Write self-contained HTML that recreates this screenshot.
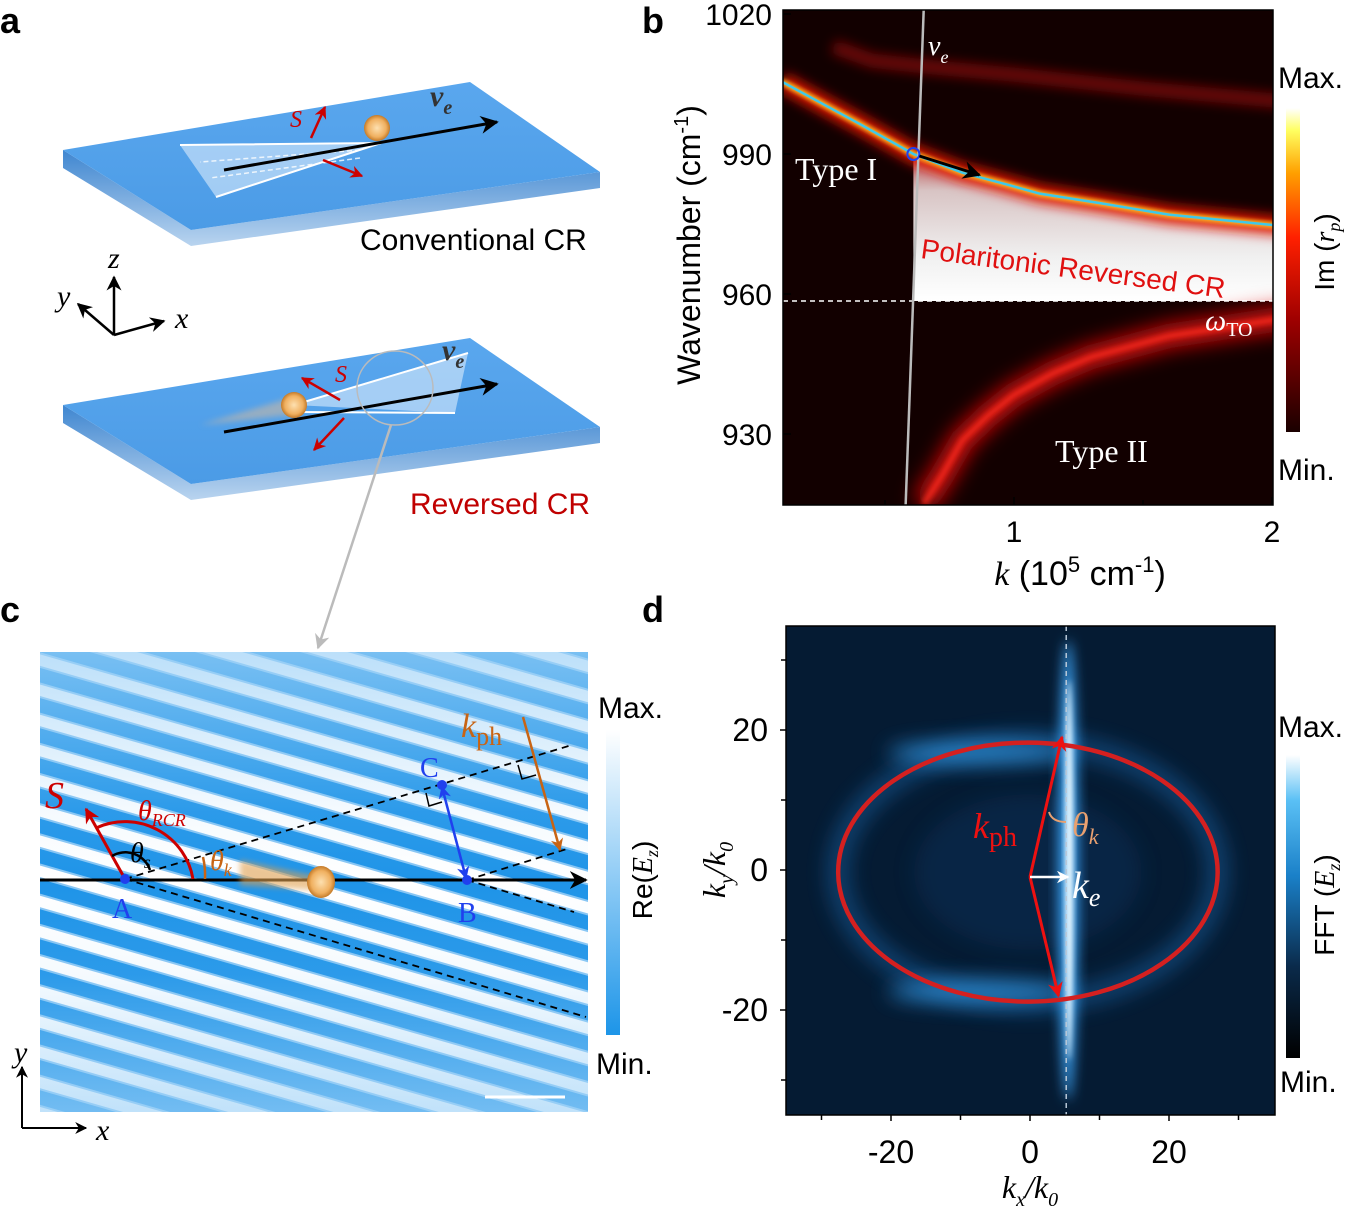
<!DOCTYPE html>
<html><head><meta charset="utf-8"><style>
body{margin:0;background:#fff;}
svg{display:block;font-family:"Liberation Sans",sans-serif;}
.m{font-family:"Liberation Serif",serif;font-style:italic;}
.s{font-family:"Liberation Serif",serif;}
</style></head><body>
<svg id="fig" width="1350" height="1210" viewBox="0 0 1350 1210" xmlns="http://www.w3.org/2000/svg">
<defs>
<linearGradient id="slabTop" x1="0" y1="0" x2="0" y2="1"><stop offset="0" stop-color="#5aa7ee"/><stop offset="1" stop-color="#4b9be6"/></linearGradient>
<linearGradient id="slabSide" x1="0" y1="0" x2="0" y2="1"><stop offset="0" stop-color="#3f86d0"/><stop offset="1" stop-color="#b9d4ef"/></linearGradient>
<radialGradient id="ball" cx="0.5" cy="0.5" r="0.5"><stop offset="0" stop-color="#fde0b0"/><stop offset="0.7" stop-color="#f0b060"/><stop offset="1" stop-color="#c47a28"/></radialGradient>
<linearGradient id="cbB" x1="0" y1="1" x2="0" y2="0"><stop offset="0" stop-color="#1a0000"/><stop offset="0.35" stop-color="#a00000"/><stop offset="0.6" stop-color="#ff2000"/><stop offset="0.8" stop-color="#ffa000"/><stop offset="0.93" stop-color="#ffff60"/><stop offset="1" stop-color="#ffffff"/></linearGradient>
<linearGradient id="cbC" x1="0" y1="0" x2="0" y2="1"><stop offset="0" stop-color="#ffffff"/><stop offset="0.5" stop-color="#8ccaf5"/><stop offset="1" stop-color="#1d95e8"/></linearGradient>
<linearGradient id="cbD" x1="0" y1="1" x2="0" y2="0"><stop offset="0" stop-color="#000000"/><stop offset="0.3" stop-color="#0a2a4a"/><stop offset="0.6" stop-color="#1a80c8"/><stop offset="0.85" stop-color="#5ac0f5"/><stop offset="1" stop-color="#ffffff"/></linearGradient>
<linearGradient id="whiteReg" x1="0" y1="0" x2="0" y2="1"><stop offset="0" stop-color="#b84848"/><stop offset="0.25" stop-color="#d8c4c4"/><stop offset="0.7" stop-color="#f0f0f0"/><stop offset="1" stop-color="#ffffff"/></linearGradient>
<pattern id="stripes" patternUnits="userSpaceOnUse" width="400" height="29" patternTransform="rotate(16)">
<rect width="400" height="29" fill="#1f94e8"/><rect y="7" width="400" height="15" fill="#cfe8fb" opacity="0.6"/><rect y="9" width="400" height="11" fill="#ffffff"/>
</pattern>
<linearGradient id="fadeC" x1="0" y1="0" x2="0" y2="1"><stop offset="0" stop-color="#9fd2f7" stop-opacity="0.7"/><stop offset="0.35" stop-color="#9fd2f7" stop-opacity="0.1"/><stop offset="0.5" stop-color="#9fd2f7" stop-opacity="0"/><stop offset="0.7" stop-color="#9fd2f7" stop-opacity="0.1"/><stop offset="1" stop-color="#9fd2f7" stop-opacity="0.65"/></linearGradient>
<filter id="blur2" x="-50%" y="-50%" width="200%" height="200%"><feGaussianBlur stdDeviation="2"/></filter>
<filter id="blur3" x="-50%" y="-50%" width="200%" height="200%"><feGaussianBlur stdDeviation="3"/></filter>
<filter id="blur6" x="-50%" y="-50%" width="200%" height="200%"><feGaussianBlur stdDeviation="6"/></filter>
<filter id="blur10" x="-100%" y="-100%" width="300%" height="300%"><feGaussianBlur stdDeviation="10"/></filter>
<marker id="ahK" viewBox="0 0 10 10" refX="9" refY="5" markerWidth="6" markerHeight="6" orient="auto"><path d="M0,0 L10,5 L0,10 L3,5z" fill="#000"/></marker>
<marker id="ahR" viewBox="0 0 10 10" refX="9" refY="5" markerWidth="5" markerHeight="5" orient="auto"><path d="M0,0 L10,5 L0,10 L3,5z" fill="#cc0000"/></marker>
<marker id="ahB" viewBox="0 0 10 10" refX="9" refY="5" markerWidth="5" markerHeight="5" orient="auto-start-reverse"><path d="M0,0 L10,5 L0,10 L3,5z" fill="#2040ee"/></marker>
<marker id="ahO" viewBox="0 0 10 10" refX="9" refY="5" markerWidth="5" markerHeight="5" orient="auto"><path d="M0,0 L10,5 L0,10 L3,5z" fill="#c86414"/></marker>
<marker id="ahG" viewBox="0 0 10 10" refX="9" refY="5" markerWidth="6" markerHeight="6" orient="auto"><path d="M0,0 L10,5 L0,10 L3,5z" fill="#bbb"/></marker>
<marker id="ahRd" viewBox="0 0 10 10" refX="9" refY="5" markerWidth="5" markerHeight="5" orient="auto"><path d="M0,0 L10,5 L0,10 L3,5z" fill="#ee1111"/></marker>
<marker id="ahW" viewBox="0 0 10 10" refX="9" refY="5" markerWidth="5" markerHeight="5" orient="auto"><path d="M0,0 L10,5 L0,10 L3,5z" fill="#fff"/></marker>
<clipPath id="clipB"><rect x="783" y="10" width="490" height="495"/></clipPath>
<clipPath id="clipC"><rect x="40" y="652" width="548" height="460"/></clipPath>
<clipPath id="clipD"><rect x="786" y="626" width="489" height="489"/></clipPath>
</defs>

<text x="0" y="33" font-size="36" font-weight="bold">a</text>
<text x="642" y="33" font-size="36" font-weight="bold">b</text>
<text x="0" y="622" font-size="36" font-weight="bold">c</text>
<text x="642" y="622" font-size="36" font-weight="bold">d</text>

<g>
 <g>
  <path d="M63,150 L191,230 L600,172 L600,188 L191,246 L63,168Z" fill="url(#slabSide)"/>
  <path d="M63,150 L470,82 L600,172 L191,230Z" fill="url(#slabTop)"/>
  <path d="M381,143 L180,145 L216,197Z" fill="#e8f3fd" opacity="0.55"/>
  <path d="M381,143 L180,145 M381,143 L216,197" stroke="#fff" stroke-width="2" fill="none"/>
  <path d="M360,150 L200,162 M360,158 L210,178" stroke="#fff" stroke-width="1.5" stroke-dasharray="5,3" opacity="0.8"/>
  <line x1="224" y1="170" x2="497" y2="122" stroke="#000" stroke-width="3" marker-end="url(#ahK)"/>
  <circle cx="377" cy="128" r="13" fill="url(#ball)"/>
  <line x1="311" y1="138" x2="325" y2="107" stroke="#cc0000" stroke-width="2.5" marker-end="url(#ahR)"/>
  <line x1="323" y1="160" x2="362" y2="176" stroke="#cc0000" stroke-width="2.5" marker-end="url(#ahR)"/>
  <text x="290" y="127" class="m" font-size="24" fill="#cc0000">S</text>
  <text x="430" y="106" class="m" font-size="30" font-weight="bold" fill="#333">v<tspan font-size="20" dy="8">e</tspan></text>
  <text x="360" y="250" font-size="30" fill="#000">Conventional CR</text>
 </g>
 <g stroke="#000" stroke-width="2.5">
  <line x1="114" y1="335" x2="114" y2="277" marker-end="url(#ahK)"/>
  <line x1="114" y1="335" x2="164" y2="321" marker-end="url(#ahK)"/>
  <line x1="114" y1="335" x2="78" y2="304" marker-end="url(#ahK)"/>
 </g>
 <text x="108" y="268" class="m" font-size="30">z</text>
 <text x="175" y="328" class="m" font-size="30">x</text>
 <text x="57" y="306" class="m" font-size="30">y</text>
 <g>
  <path d="M63,405 L191,484 L600,427 L600,443 L191,500 L63,423Z" fill="url(#slabSide)"/>
  <path d="M63,405 L470,338 L600,427 L191,484Z" fill="url(#slabTop)"/>
  <path d="M294,405 L468,353 L455,413Z" fill="#e8f3fd" opacity="0.55"/>
  <path d="M294,405 L468,353 M294,412 L455,413" stroke="#fff" stroke-width="2" fill="none"/>
  <line x1="224" y1="432" x2="497" y2="384" stroke="#000" stroke-width="3" marker-end="url(#ahK)"/>
  <path d="M200,425 L290,398 L290,415Z" fill="#ddbb99" opacity="0.5" filter="url(#blur3)"/>
  <circle cx="294" cy="405" r="13" fill="url(#ball)"/>
  <line x1="340" y1="400" x2="302" y2="378" stroke="#cc0000" stroke-width="2.5" marker-end="url(#ahR)"/>
  <line x1="344" y1="418" x2="314" y2="450" stroke="#cc0000" stroke-width="2.5" marker-end="url(#ahR)"/>
  <text x="335" y="382" class="m" font-size="24" fill="#cc0000">S</text>
  <text x="442" y="360" class="m" font-size="30" font-weight="bold" fill="#333">v<tspan font-size="20" dy="8">e</tspan></text>
  <ellipse cx="395" cy="388" rx="38" ry="37" fill="none" stroke="#bbb" stroke-width="1.5"/>
  <line x1="391" y1="425" x2="318" y2="648" stroke="#bbb" stroke-width="2.5" marker-end="url(#ahG)"/>
  <text x="410" y="514" font-size="30" fill="#c00000">Reversed CR</text>
 </g>
</g>

<g>
 <rect x="783" y="10" width="490" height="495" fill="#120000"/>
 <g id="bMarks" clip-path="url(#clipB)"></g>
 <rect x="783" y="10" width="490" height="495" fill="none" stroke="#000" stroke-width="1.5"/>
 <g id="bAxes"></g>
 <text transform="translate(700,245) rotate(-90)" text-anchor="middle" font-size="32">Wavenumber (cm<tspan font-size="20" dy="-12">-1</tspan><tspan dy="12">)</tspan></text>
 <text x="1080" y="585" text-anchor="middle" font-size="34"><tspan class="m">k</tspan> (10<tspan font-size="22" dy="-13">5</tspan><tspan dy="13"> cm</tspan><tspan font-size="22" dy="-13">-1</tspan><tspan dy="13">)</tspan></text>
 <rect x="1286" y="108" width="14" height="324" fill="url(#cbB)"/>
 <text x="1278" y="88" font-size="30">Max.</text>
 <text x="1278" y="480" font-size="30">Min.</text>
 <text transform="translate(1334,252) rotate(-90)" text-anchor="middle" font-size="28">Im (<tspan class="m">r<tspan font-size="18" dy="6">p</tspan></tspan><tspan dy="-6">)</tspan></text>
</g>

<g>
 <g clip-path="url(#clipC)">
  <rect x="40" y="652" width="548" height="460" fill="url(#stripes)"/>
  <rect x="40" y="652" width="548" height="460" fill="url(#fadeC)"/>
 </g>
 <line x1="40" y1="880" x2="586" y2="880" stroke="#000" stroke-width="3" marker-end="url(#ahK)"/>
 <g stroke="#000" stroke-width="1.8" stroke-dasharray="7,5" fill="none">
  <line x1="125" y1="879" x2="572" y2="745"/>
  <line x1="125" y1="879" x2="586" y2="1017"/>
  <line x1="467" y1="880" x2="570" y2="848"/>
  <line x1="467" y1="880" x2="574" y2="912"/>
 </g>
 <path d="M240,860 L315,876 L315,890 L240,885Z" fill="#e0a050" opacity="0.6" filter="url(#blur3)"/>
 <ellipse cx="321" cy="882" rx="14" ry="16" fill="url(#ball)"/>
 <line x1="125" y1="879" x2="86" y2="809" stroke="#cc0000" stroke-width="3" marker-end="url(#ahR)"/>
 <path d="M96,828 A69,69 0 0 1 193,879" stroke="#cc0000" stroke-width="3" fill="none"/>
 <path d="M112,856 A26,26 0 0 1 150,870" stroke="#000" stroke-width="2.5" fill="none"/>
 <path d="M203,857 A80,80 0 0 1 205,879" stroke="#c86414" stroke-width="2.5" fill="none"/>
 <text x="45" y="808" class="m" font-size="38" fill="#cc0000">S</text>
 <text x="138" y="820" class="m" font-size="28" fill="#cc0000">θ<tspan font-size="18" dy="6">RCR</tspan></text>
 <text x="130" y="862" class="m" font-size="28">θ<tspan font-size="18" dy="6">s</tspan></text>
 <text x="210" y="870" class="m" font-size="28" fill="#c86414">θ<tspan font-size="18" dy="6">k</tspan></text>
 <line x1="442" y1="787" x2="466" y2="878" stroke="#2040ee" stroke-width="2.5" marker-start="url(#ahB)" marker-end="url(#ahB)"/>
 <circle cx="125" cy="879" r="5" fill="#2040ee"/><circle cx="467" cy="880" r="5" fill="#2040ee"/><circle cx="442" cy="785" r="5" fill="#2040ee"/>
 <path d="M426,793 L429,806 L442,802" stroke="#000" stroke-width="1.5" fill="none"/>
 <path d="M518,765 L522,779 L536,775" stroke="#000" stroke-width="1.5" fill="none"/>
 <text x="112" y="918" class="s" font-size="28" fill="#2040ee">A</text>
 <text x="458" y="922" class="s" font-size="28" fill="#2040ee">B</text>
 <text x="420" y="777" class="s" font-size="28" fill="#2040ee">C</text>
 <line x1="523" y1="717" x2="560" y2="850" stroke="#c86414" stroke-width="2.5" marker-end="url(#ahO)"/>
 <text x="461" y="737" class="m" font-size="34" fill="#c86414">k<tspan class="s" font-style="normal" font-size="26" dy="8">ph</tspan></text>
 <line x1="485" y1="1097" x2="565" y2="1097" stroke="#fff" stroke-width="3"/>
 <rect x="606" y="730" width="14" height="305" fill="url(#cbC)"/>
 <text x="598" y="718" font-size="30">Max.</text>
 <text x="596" y="1074" font-size="30">Min.</text>
 <text transform="translate(652,880) rotate(-90)" text-anchor="middle" font-size="28">Re(<tspan class="m">E<tspan font-size="18" dy="6">z</tspan></tspan><tspan dy="-6">)</tspan></text>
 <g stroke="#000" stroke-width="2">
  <line x1="22" y1="1128" x2="22" y2="1067" marker-end="url(#ahK)"/>
  <line x1="22" y1="1128" x2="86" y2="1128" marker-end="url(#ahK)"/>
 </g>
 <text x="14" y="1062" class="m" font-size="30">y</text>
 <text x="96" y="1140" class="m" font-size="30">x</text>
</g>

<g>
 <rect x="786" y="626" width="489" height="489" fill="#04152a"/>
 <g id="dMarks" clip-path="url(#clipD)"></g>
 <rect x="786" y="626" width="489" height="489" fill="none" stroke="#000" stroke-width="1.5"/>
 <g id="dAxes"></g>
 <text x="1030" y="1198" text-anchor="middle" class="m" font-size="32">k<tspan font-size="20" dy="8">x</tspan><tspan dy="-8">/k</tspan><tspan font-size="20" dy="8">0</tspan></text>
 <text transform="translate(725,870) rotate(-90)" text-anchor="middle" class="m" font-size="32">k<tspan font-size="20" dy="8">y</tspan><tspan dy="-8">/k</tspan><tspan font-size="20" dy="8">0</tspan></text>
 <rect x="1286" y="755" width="14" height="303" fill="url(#cbD)"/>
 <text x="1278" y="737" font-size="30">Max.</text>
 <text x="1280" y="1092" font-size="30">Min.</text>
 <text transform="translate(1334,905) rotate(-90)" text-anchor="middle" font-size="28">FFT (<tspan class="m">E<tspan font-size="18" dy="6">z</tspan></tspan><tspan dy="-6">)</tspan></text>
</g>
</svg>

<script>
// ---- Panel b data ----
const bTypeIk = [0.1,0.25,0.4,0.61,0.8,0.95,1.1,1.33,1.6,2.0,2.1];
const bTypeIw = [1005.5,1001,996.5,990,986,983.8,981.5,979.5,977,974.8,974.4];
const bUpperK = [0.3,0.45,0.7,1.0,1.5,2.0,2.1];
const bUpperW = [1013,1010,1008.5,1007,1004,1001.5,1001];
const bTypeIIk = [0.65,0.72,0.8,0.9,1.0,1.15,1.3,1.6,2.0,2.1];
const bTypeIIw = [915,921,928.7,934,938.4,943,946.5,951,954.4,955];
const bOmegaTO = 958.5;
const bVeK = [0.65,0.58];
const bVeW = [1020.9,914.8];
const bYTicks = [1020,990,960,930];
const bXTicks = [1,2];
const bXMinor = [0.5,1.5];
// ---- Panel d data ----
const dXTicks = [-20,0,20];
const dYTicks = [20,0,-20];
const dMinor = [-30,-10,10,30];
const dEllipseCenter = [-0.3,-0.3];
const dEllipseAxes = [27.3,18.5];
const dKe = 5.5;
const dKphTop = [4.6,19];
const dKphBot = [4.1,-18];

const NS = 'http://www.w3.org/2000/svg';
function mk(tag, attrs, parent){const e=document.createElementNS(NS,tag);for(const k in attrs)e.setAttribute(k,attrs[k]);parent.appendChild(e);return e;}
const bx = k => 756 + 258*k;
const by = w => 14 + (1020-w)*140/30;
const dx = v => 1030 + v*6.95;
const dy = v => 870 - v*7;
function pts(xs, ys, fx, fy){return xs.map((x,i)=>fx(x)+','+fy(ys[i])).join(' ');}

const bM = document.getElementById('bMarks');
let reg = [];
for(let i=0;i<bTypeIk.length;i++){ if(bTypeIk[i]>=bTypeIk[3]) reg.push(bx(bTypeIk[i])+','+by(bTypeIw[i])); }
reg.push(bx(bTypeIk[bTypeIk.length-1])+','+by(bOmegaTO));
reg.push(bx(bTypeIk[3])+','+by(bOmegaTO));
const wr = mk('polygon',{points:reg.join(' '),fill:'url(#whiteReg)'},bM);


const up = mk('polyline',{points:pts(bUpperK,bUpperW,bx,by),fill:'none',stroke:'#b01010','stroke-width':14,filter:'url(#blur6)',opacity:0.6},bM);


const t2g = mk('polyline',{points:pts(bTypeIIk,bTypeIIw,bx,by),fill:'none',stroke:'#d01010','stroke-width':24,filter:'url(#blur10)'},bM);


mk('polyline',{points:pts(bTypeIIk,bTypeIIw,bx,by),fill:'none',stroke:'#ff2a1a','stroke-width':5,filter:'url(#blur3)'},bM);
mk('polyline',{points:pts(bTypeIk,bTypeIw,bx,by),fill:'none',stroke:'#e01800','stroke-width':18,filter:'url(#blur6)'},bM);
mk('polyline',{points:pts(bTypeIk,bTypeIw,bx,by),fill:'none',stroke:'#ffc020','stroke-width':6,filter:'url(#blur2)'},bM);
const t1 = mk('polyline',{points:pts(bTypeIk,bTypeIw,bx,by),fill:'none',stroke:'#40c8e8','stroke-width':2.5},bM);


const to = mk('line',{x1:783,x2:1273,y1:by(bOmegaTO),y2:by(bOmegaTO),stroke:'#fff','stroke-width':1.5,'stroke-dasharray':'5,4'},bM);


const ve = mk('line',{x1:bx(bVeK[0]),y1:by(bVeW[0]),x2:bx(bVeK[1]),y2:by(bVeW[1]),stroke:'#bbb','stroke-width':2.5},bM);


const cx0 = bx(bTypeIk[3]), cy0 = by(bTypeIw[3]);
mk('circle',{cx:cx0,cy:cy0,r:6,fill:'none',stroke:'#2040ee','stroke-width':2},bM);
mk('line',{x1:cx0+6,y1:cy0+2,x2:cx0+66,y2:cy0+21,stroke:'#000','stroke-width':3,'marker-end':'url(#ahK)'},bM);
let tx;
tx = mk('text',{x:795,y:180,'font-size':32,fill:'#fff',class:'s'},bM); tx.textContent='Type I';


tx = mk('text',{x:1055,y:462,'font-size':32,fill:'#fff',class:'s'},bM); tx.textContent='Type II';


tx = mk('text',{x:0,y:0,'font-size':28,fill:'#e01010',transform:'translate(920,258) rotate(7.5)'},bM); tx.textContent='Polaritonic Reversed CR';


tx = mk('text',{x:1205,y:330,'font-size':30,fill:'#fff',class:'m'},bM); tx.innerHTML='ω<tspan font-size="20" dy="6" font-style="normal">TO</tspan>';


tx = mk('text',{x:928,y:55,'font-size':28,fill:'#fff',class:'m'},bM); tx.innerHTML='v<tspan font-size="18" dy="8">e</tspan>';



const bA = document.getElementById('bAxes');
bYTicks.forEach(v=>{
  mk('line',{x1:783,x2:791,y1:by(v),y2:by(v),stroke:'#000','stroke-width':1.5},bA);
  const t = mk('text',{x:772,y:by(v)+11,'text-anchor':'end','font-size':30},bA); t.textContent=v;
  
  
});
bXTicks.forEach(v=>{
  mk('line',{x1:bx(v),x2:bx(v),y1:505,y2:497,stroke:'#000','stroke-width':1.5},bA);
  const t = mk('text',{x:bx(v),y:542,'text-anchor':'middle','font-size':30},bA); t.textContent=v;
  
  
});
bXMinor.forEach(v=>{ mk('line',{x1:bx(v),x2:bx(v),y1:505,y2:500,stroke:'#000','stroke-width':1.5},bA); });

const dM = document.getElementById('dMarks');
const ecx = dx(dEllipseCenter[0]), ecy = dy(dEllipseCenter[1]);
const erx = dEllipseAxes[0]*6.95, ery = dEllipseAxes[1]*7;
mk('rect',{x:786,y:626,width:489,height:489,fill:'#0a2744',opacity:0.35},dM);
mk('ellipse',{cx:ecx,cy:ecy,rx:erx,ry:ery,fill:'none',stroke:'#1a70b8','stroke-width':22,filter:'url(#blur10)',opacity:0.45},dM);
mk('ellipse',{cx:ecx-50,cy:ecy-ery+10,rx:90,ry:12,fill:'#2f8fd8',filter:'url(#blur10)',opacity:0.8},dM);
mk('ellipse',{cx:ecx-50,cy:ecy+ery-10,rx:90,ry:12,fill:'#2f8fd8',filter:'url(#blur10)',opacity:0.8},dM);
mk('ellipse',{cx:ecx,cy:ecy,rx:erx*0.6,ry:ery*0.6,fill:'#0b3560',filter:'url(#blur10)',opacity:0.4},dM);
mk('ellipse',{cx:dx(dKe),cy:870,rx:10,ry:230,fill:'#3aa0f0',filter:'url(#blur6)'},dM);
const bl = mk('ellipse',{cx:dx(dKe)+1,cy:870,rx:4,ry:190,fill:'#f0fbff',filter:'url(#blur3)'},dM);


mk('line',{x1:dx(dKe)-2,x2:dx(dKe)-2,y1:626,y2:1115,stroke:'#b8c8d8','stroke-width':1.5,'stroke-dasharray':'5,4'},dM);
const el = mk('ellipse',{cx:ecx,cy:ecy,rx:erx,ry:ery,fill:'none',stroke:'#d42020','stroke-width':4.5},dM);


const ox = dx(0), oy = dy(-1);
const a1 = mk('line',{x1:ox,y1:oy,x2:dx(dKphTop[0]),y2:dy(dKphTop[1]),stroke:'#ee1111','stroke-width':3,'marker-end':'url(#ahRd)'},dM);


const a2 = mk('line',{x1:ox,y1:oy,x2:dx(dKphBot[0]),y2:dy(dKphBot[1]),stroke:'#ee1111','stroke-width':3,'marker-end':'url(#ahRd)'},dM);


const a3 = mk('line',{x1:ox,y1:oy,x2:dx(dKe),y2:oy,stroke:'#fff','stroke-width':2.5,'marker-end':'url(#ahW)'},dM);


mk('path',{d:'M1049,812 Q1052,822 1066,822',stroke:'#e8a070','stroke-width':2,fill:'none'},dM);
tx = mk('text',{x:973,y:838,'font-size':36,fill:'#ee1111',class:'m'},dM); tx.innerHTML='k<tspan class="s" font-style="normal" font-size="28" dy="8">ph</tspan>';


tx = mk('text',{x:1072,y:836,'font-size':34,fill:'#e8a070',class:'m'},dM); tx.innerHTML='θ<tspan font-size="22" dy="8">k</tspan>';


tx = mk('text',{x:1072,y:898,'font-size':38,fill:'#fff',class:'m'},dM); tx.innerHTML='k<tspan font-size="26" dy="8">e</tspan>';



const dA = document.getElementById('dAxes');
dXTicks.forEach(v=>{
  mk('line',{x1:dx(v),x2:dx(v),y1:1115,y2:1121,stroke:'#000','stroke-width':1.5},dA);
  const t = mk('text',{x:dx(v),y:1163,'text-anchor':'middle','font-size':32},dA); t.textContent=v;
  
  
});
dYTicks.forEach(v=>{
  mk('line',{x1:780,x2:786,y1:dy(v),y2:dy(v),stroke:'#000','stroke-width':1.5},dA);
  const t = mk('text',{x:768,y:dy(v)+11,'text-anchor':'end','font-size':32},dA); t.textContent=v;
  
  
});
dMinor.forEach(v=>{
  mk('line',{x1:dx(v),x2:dx(v),y1:1115,y2:1120,stroke:'#000','stroke-width':1.5},dA);
  mk('line',{x1:781,x2:786,y1:dy(v),y2:dy(v),stroke:'#000','stroke-width':1.5},dA);
});
</script>
</body></html>
